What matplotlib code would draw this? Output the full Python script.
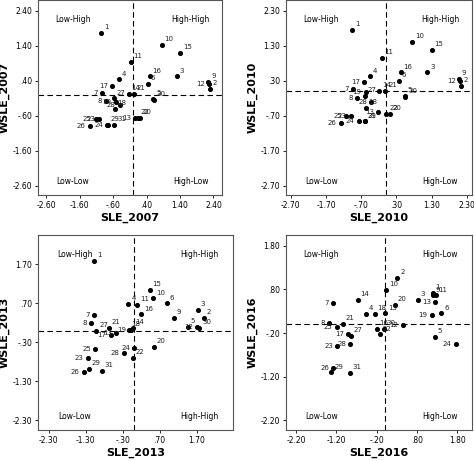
import matplotlib
matplotlib.use("Agg")
import matplotlib.pyplot as plt

years = ["2007", "2010", "2013", "2016"]

ids_2007 = [1, 10, 15, 11, 16, 3, 4, 9, 6, 17, 12, 2, 7, 27, 21, 14, 5, 30, 8, 28, 19, 18,
            13, 22, 20, 25, 23, 24, 26, 31, 29]
x_2007 = [-0.95, 0.85, 1.41, -0.07, 0.49, 1.30, -0.43, 2.25, 0.44, -0.62, 2.27, 2.30, -0.93,
          -0.57, 0.03, -0.14, 0.60, 0.62, -0.82, -0.40, -0.52, -0.55, 0.05, 0.15, 0.20,
          -1.12, -1.02, -0.77, -1.30, -0.57, -0.75]
y_2007 = [1.75, 1.42, 1.20, 0.94, 0.52, 0.52, 0.43, 0.35, 0.30, 0.25, 0.30, 0.15, 0.05,
          -0.11, 0.01, 0.01, -0.13, -0.15, -0.18, -0.30, -0.20, -0.40, -0.66, -0.66, -0.66,
          -0.70, -0.70, -0.87, -0.90, -0.87, -0.87]

ids_2010 = [1, 10, 15, 11, 16, 3, 4, 6, 9, 12, 2, 17, 7, 21, 14, 27, 5, 30, 8, 28, 19, 18,
            13, 22, 20, 25, 23, 24, 31, 29, 26]
x_2010 = [-0.95, 0.75, 1.30, -0.11, 0.42, 1.18, -0.44, 0.38, 2.08, 2.11, 2.13, -0.62, -0.93,
          -0.01, -0.19, -0.59, 0.54, 0.56, -0.82, -0.41, -0.57, -0.57, -0.21, 0.02, 0.12,
          -1.12, -0.99, -0.77, -0.59, -0.60, -1.28]
y_2010 = [1.75, 1.41, 1.18, 0.94, 0.53, 0.53, 0.42, 0.30, 0.34, 0.29, 0.15, 0.25, 0.05,
          0.01, 0.01, -0.13, -0.15, -0.16, -0.20, -0.30, -0.02, -0.49, -0.59, -0.65, -0.65,
          -0.70, -0.70, -0.87, -0.87, -0.87, -0.90]

ids_2013 = [1, 15, 10, 4, 11, 6, 3, 16, 7, 9, 2, 8, 14, 5, 12, 30, 21, 18, 19, 27, 17, 13,
            25, 24, 20, 28, 22, 23, 26, 29, 31]
x_2013 = [-1.06, 0.43, 0.53, -0.14, 0.09, 0.89, 1.74, 0.20, -1.07, 1.08, 1.90, -1.16, -0.02,
          1.47, 1.72, 1.78, -0.67, -0.13, -0.08, -1.01, -0.62, -0.47, -1.04, 0.02, 0.54,
          -0.27, -0.02, -1.24, -1.35, -1.21, -0.86]
y_2013 = [1.79, 1.04, 0.83, 0.68, 0.66, 0.70, 0.53, 0.42, 0.40, 0.32, 0.33, 0.20, 0.08,
          0.10, 0.10, 0.08, 0.08, 0.01, 0.01, -0.01, -0.11, -0.07, -0.47, -0.45, -0.41,
          -0.56, -0.70, -0.71, -1.05, -0.99, -1.04]

ids_2016 = [2, 10, 1, 9, 11, 13, 3, 14, 20, 7, 4, 18, 15, 6, 19, 8, 21, 25, 12, 16, 30, 22,
            17, 27, 5, 28, 23, 24, 26, 29, 31]
x_2016 = [0.32, 0.04, 1.19, 1.19, 1.27, 1.25, 0.83, -0.67, 0.26, -1.27, -0.47, -0.24, 0.01,
          1.41, 1.17, -1.38, -1.04, -1.19, 0.45, -0.20, -0.02, -0.12, -0.91, -0.84, 1.25,
          -0.85, -1.17, 1.77, -1.27, -1.32, -0.87]
y_2016 = [1.07, 0.78, 0.71, 0.66, 0.66, 0.52, 0.56, 0.56, 0.44, 0.48, 0.23, 0.23, 0.25,
          0.25, 0.21, 0.04, 0.01, -0.07, -0.02, -0.10, -0.10, -0.23, -0.22, -0.27, -0.28,
          -0.45, -0.50, -0.45, -1.01, -1.10, -1.11]

xticks = {"2007": [-2.6, -1.6, -0.6, 0.4, 1.4, 2.4], "2010": [-2.7, -1.7, -0.7, 0.3, 1.3, 2.3],
          "2013": [-2.3, -1.3, -0.3, 0.7, 1.7], "2016": [-2.2, -1.2, -0.2, 0.8, 1.8]}
yticks = {"2007": [2.4, 1.4, 0.4, -0.6, -1.6, -2.6], "2010": [2.3, 1.3, 0.3, -0.7, -1.7, -2.7],
          "2013": [1.7, 0.7, -0.3, -1.3, -2.3], "2016": [1.8, 0.8, -0.2, -1.2, -2.2]}
xlims = {"2007": (-2.85, 2.65), "2010": (-2.84, 2.44), "2013": (-2.59, 2.68), "2016": (-2.45, 2.16)}
ylims = {"2007": (-2.87, 2.7), "2010": (-2.97, 2.6), "2013": (-2.55, 2.45), "2016": (-2.42, 2.04)}
quad = {"2007": ["Low-High", "High-High", "Low-Low", "High-Low"],
        "2010": ["Low-High", "High-High", "Low-Low", "High-Low"],
        "2013": ["Low-High", "High-High", "Low-Low", "High-High"],
        "2016": ["Low-High", "High-Low", "Low-Low", "High-Low"]}
data = {"2007": (ids_2007, x_2007, y_2007), "2010": (ids_2010, x_2010, y_2010),
        "2013": (ids_2013, x_2013, y_2013), "2016": (ids_2016, x_2016, y_2016)}

# labels that sit left of / below their point
left_labels = {7, 17, 8, 25, 12, 19, 24, 13, 26, 23, 28}

positions = {"2007": [0.080, 0.577, 0.388, 0.423], "2010": [0.603, 0.577, 0.392, 0.423],
             "2013": [0.080, 0.067, 0.411, 0.423], "2016": [0.603, 0.067, 0.392, 0.423]}


def fmt(v):
    s = "%.2f" % v
    return s.replace("0.", ".", 1) if abs(v) < 1 else s


fig = plt.figure(figsize=(4.74, 4.61), dpi=100)
for yr in years:
    ax = fig.add_axes(positions[yr])
    ids, xs, ys = data[yr]
    ax.scatter(xs, ys, s=7, color="black", zorder=3)
    for i, x, y in zip(ids, xs, ys):
        if i in left_labels:
            off, ha = (-3, 0), "right"
        else:
            off, ha = (2, 2), "left"
        ax.annotate(str(i), (x, y), xytext=off, textcoords="offset points",
                    fontsize=5, ha=ha, va="bottom" if off[1] > 0 else "center", color="#222222")
    ax.axhline(0, color="black", ls=(0, (5, 3)), lw=0.8)
    ax.axvline(0, color="black", ls=(0, (5, 3)), lw=0.8)
    ax.set_xlim(*xlims[yr])
    ax.set_ylim(*ylims[yr])
    ax.set_xticks(xticks[yr])
    ax.set_xticklabels([fmt(v) for v in xticks[yr]])
    ax.set_yticks(yticks[yr])
    ax.set_yticklabels([fmt(v) for v in yticks[yr]])
    ax.tick_params(labelsize=5.5, length=2, width=0.6, pad=2)
    for sp in ax.spines.values():
        sp.set_linewidth(0.8)
        sp.set_color("#555555")
    ax.set_xlabel("SLE_" + yr, fontsize=8, fontweight="bold", labelpad=2)
    ax.set_ylabel("WSLE_" + yr, fontsize=8, fontweight="bold", labelpad=2)
    q = quad[yr]
    kw = dict(transform=ax.transAxes, fontsize=5.5, ha="center", va="center")
    ax.text(0.19, 0.9, q[0], **kw)
    ax.text(0.83, 0.9, q[1], **kw)
    ax.text(0.19, 0.07, q[2], **kw)
    ax.text(0.83, 0.07, q[3], **kw)

fig.savefig("out.png", dpi=100)
